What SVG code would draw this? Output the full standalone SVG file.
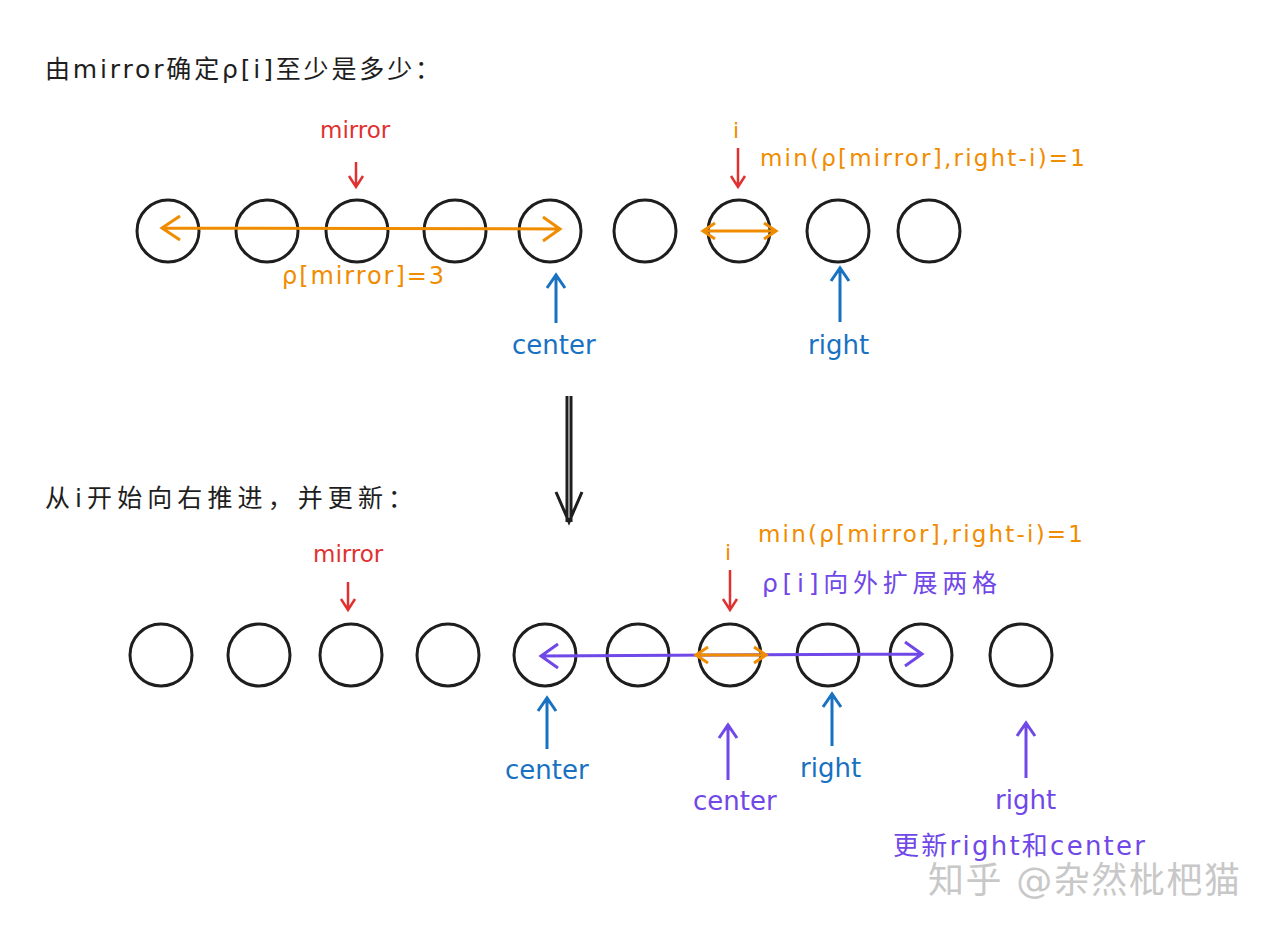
<svg xmlns="http://www.w3.org/2000/svg" width="1272" height="930" viewBox="0 0 1272 930">
<style>
text{font-family:"DejaVu Sans","Noto Sans CJK SC",sans-serif}
.c{fill:none;stroke:#1e1e1e;stroke-width:3}
.r{fill:#e03131}.o{fill:#f08c00}.b{fill:#1971c2}.p{fill:#7048e8}.k{fill:#1e1e1e}
.lr{stroke:#e03131;stroke-width:2.5;fill:none}
.lo{stroke:#f08c00;stroke-width:3;fill:none}
.lb{stroke:#1971c2;stroke-width:3;fill:none}
.lp{stroke:#7048e8;stroke-width:3;fill:none}
</style>
<rect width="1272" height="930" fill="#fff"/>
<text x="45" y="78" class="k" font-size="25" textLength="395">由mirror确定ρ[i]至少是多少：</text>
<text x="45" y="507" class="k" font-size="25" textLength="368">从i开始向右推进，并更新：</text>
<g id="row1">
<circle class="c" cx="168" cy="231" r="31"/><circle class="c" cx="267" cy="231" r="31"/><circle class="c" cx="357" cy="231" r="31"/><circle class="c" cx="455" cy="231" r="31"/><circle class="c" cx="550" cy="231" r="31"/><circle class="c" cx="645" cy="231" r="31"/><circle class="c" cx="739" cy="231" r="31"/><circle class="c" cx="838" cy="231" r="31"/><circle class="c" cx="929" cy="231" r="31"/>
</g>
<g id="row2">
<circle class="c" cx="161" cy="655" r="31"/><circle class="c" cx="259" cy="655" r="31"/><circle class="c" cx="351" cy="655" r="31"/><circle class="c" cx="448" cy="655" r="31"/><circle class="c" cx="545" cy="655" r="31"/><circle class="c" cx="638" cy="655" r="31"/><circle class="c" cx="730" cy="655" r="31"/><circle class="c" cx="828" cy="655" r="31"/><circle class="c" cx="921" cy="655" r="31"/><circle class="c" cx="1021" cy="655" r="31"/>
</g>
<g id="labels">
<text x="320" y="138" class="r" font-size="23">mirror</text>
<text x="733" y="138" class="o" font-size="22">i</text>
<text x="760" y="166" class="o" font-size="23" textLength="325">min(ρ[mirror],right-i)=1</text>
<text x="282" y="284" class="o" font-size="24" textLength="162">ρ[mirror]=3</text>
<text x="512" y="354" class="b" font-size="26">center</text>
<text x="808" y="354" class="b" font-size="26">right</text>
<text x="313" y="562" class="r" font-size="23">mirror</text>
<text x="725" y="560" class="o" font-size="22">i</text>
<text x="758" y="542" class="o" font-size="23" textLength="325">min(ρ[mirror],right-i)=1</text>
<text x="762" y="592" class="p" font-size="25" textLength="235">ρ[i]向外扩展两格</text>
<text x="505" y="779" class="b" font-size="26">center</text>
<text x="800" y="777" class="b" font-size="26">right</text>
<text x="693" y="810" class="p" font-size="26">center</text>
<text x="995" y="809" class="p" font-size="26">right</text>
<text x="893" y="855" class="p" font-size="26" textLength="252">更新right和center</text>
<text x="928" y="893" fill="#c8c8c8" font-size="36" textLength="312">知乎 @杂然枇杷猫</text>
</g>
<g id="connectors">
<path class="lr" d="M356 162V187M349 176L356 187L363 176"/>
<path class="lr" d="M738 148V187M731 176L738 187L745 176"/>
<path class="lo" d="M162 228L560 229M180 216L162 228L180 240M543 217L560 229L543 241"/>
<path class="lo" d="M703 231H776M715 223L703 231L715 239M764 223L776 231L764 239"/>
<path class="lb" d="M556 323V275M547 288L556 275L565 288"/>
<path class="lb" d="M840 322V268M831 281L840 268L849 281"/>
<path d="M567 396V522M571 396V522M556 492L569 522L582 492" stroke="#1e1e1e" stroke-width="3" fill="none"/>
<path class="lr" d="M348 582V610M341 599L348 610L355 599"/>
<path class="lr" d="M730 570V610M723 599L730 610L737 599"/>
<path class="lp" d="M541 656L922 654M558 644L541 656L558 668M905 642L922 654L905 666"/>
<path class="lo" d="M696 655H766M708 647L696 655L708 663M754 647L766 655L754 663"/>
<path class="lb" d="M547 749V698M538 711L547 698L556 711"/>
<path class="lb" d="M832 746V694M823 707L832 694L841 707"/>
<path class="lp" d="M728 780V725M719 738L728 725L737 738"/>
<path class="lp" d="M1026 778V723M1017 736L1026 723L1035 736"/>
</g>
</svg>
